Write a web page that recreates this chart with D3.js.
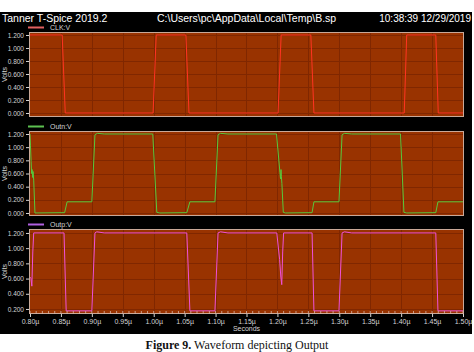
<!DOCTYPE html>
<html>
<head>
<meta charset="utf-8">
<script src="https://cdn.jsdelivr.net/npm/d3@7"></script>
<style>
  body { margin: 0; background: #fff; }
  svg { display: block; }
</style>
</head>
<body>
<div id="chart"></div>
<script>
// header texts
const appName = 'Tanner T-Spice 2019.2';
const filePath = 'C:\\Users\\pc\\AppData\\Local\\Temp\\B.sp';
const stamp = '10:38:39 12/29/2019';
const caption = ['Figure 9.', ' Waveform depicting Output'];

// x axis (microseconds)
const timeDomain = [0.8, 1.5];
const timeTicks = [0.80, 0.85, 0.90, 0.95, 1.00, 1.05, 1.10, 1.15, 1.20, 1.25, 1.30, 1.35, 1.40, 1.45, 1.50];

// y ticks per panel
const clkTicks = [0, 0.2, 0.4, 0.6, 0.8, 1.0, 1.2];
const outnTicks = [0, 0.2, 0.4, 0.6, 0.8, 1.0, 1.2];
const outpTicks = [0.2, 0.4, 0.6, 0.8, 1.0, 1.2];

// [time µs, volts]
const clkData = [
  [0.800, 1.2], [0.852, 1.2], [0.857, 0], [0.999, 0], [1.004, 1.2], [1.052, 1.2], [1.057, 0],
  [1.201, 0], [1.206, 1.2], [1.254, 1.2], [1.259, 0], [1.405, 0], [1.409, 1.2], [1.456, 1.2],
  [1.460, 0], [1.500, 0]
];

const outnData = [
  [0.800, 1.20], [0.8008, 1.02], [0.8018, 0.78], [0.8026, 0.60], [0.8034, 0.66], [0.8042, 0.54],
  [0.8050, 0.63], [0.8060, 0.50], [0.8080, 0.00], [0.8560, 0.005], [0.8600, 0.17], [0.9000, 0.17],
  [0.9050, 1.19], [0.9090, 1.21], [0.9200, 1.20], [0.9985, 1.20], [1.0050, 0.01], [1.0100, 0.00],
  [1.0535, 0.005], [1.0585, 0.17], [1.0990, 0.17], [1.1040, 1.19], [1.1080, 1.21], [1.1200, 1.20],
  [1.1985, 1.20], [1.2040, 0.62], [1.2050, 0.52], [1.2058, 0.66], [1.2064, 0.55], [1.2072, 0.45],
  [1.2095, 0.01], [1.2130, 0.00], [1.2560, 0.005], [1.2590, 0.17], [1.2995, 0.17], [1.3045, 1.19],
  [1.3085, 1.21], [1.3200, 1.20], [1.3990, 1.20], [1.4045, 0.01], [1.4090, 0.00], [1.4560, 0.005],
  [1.4595, 0.17], [1.5000, 0.17]
];

const outpData = [
  [0.800, 0.62], [0.8015, 0.60], [0.8030, 0.50], [0.8045, 0.95], [0.8060, 1.20], [0.8550, 1.20],
  [0.8585, 0.175], [0.9000, 0.175], [0.9050, 1.20], [0.9080, 1.215], [0.9200, 1.20], [1.0535, 1.20],
  [1.0585, 0.175], [1.0990, 0.175], [1.1040, 1.20], [1.1080, 1.215], [1.1200, 1.20], [1.1990, 1.20],
  [1.2035, 0.85], [1.2055, 0.62], [1.2070, 0.52], [1.2085, 0.95], [1.2100, 1.20], [1.2560, 1.20],
  [1.2590, 0.175], [1.2995, 0.175], [1.3045, 1.20], [1.3085, 1.215], [1.3200, 1.20], [1.4560, 1.20],
  [1.4595, 0.175], [1.5000, 0.175]
];

const W = 474, H = 352;
const plotLeft = 30, plotRight = 463;
const bg = '#993300';
const gridCol = '#802700';
const labelCol = '#d4d4d4';
const sans = '"Liberation Sans", Arial, sans-serif';

const panels = [
  { name: 'CLK:V', data: clkData, ticks: clkTicks, domain: [-0.0615, 1.246], top: 32, color: '#ff3322', legendColor: '#e06060' },
  { name: 'Outn:V', data: outnData, ticks: outnTicks, domain: [-0.0456, 1.2456], top: 131, color: '#58c83c', legendColor: '#5cc050' },
  { name: 'Outp:V', data: outpData, ticks: outpTicks, domain: [0.134, 1.252], top: 229, color: '#f050d8', legendColor: '#b060e0' }
];
const plotH = 85;

const svg = d3.select('#chart').append('svg')
  .attr('width', W)
  .attr('height', H)
  .style('font-family', sans);

svg.append('rect').attr('x', 0).attr('y', 0).attr('width', W).attr('height', H).attr('fill', '#fff');
svg.append('rect').attr('x', 0).attr('y', 12).attr('width', 472).attr('height', 322).attr('fill', '#000');

// title bar
svg.append('text').attr('x', 2).attr('y', 22).attr('fill', '#fff').style('font-size', '10.5px').text(appName);
svg.append('text').attr('x', 157).attr('y', 22).attr('fill', '#fff').style('font-size', '10.5px').text(filePath);
svg.append('text').attr('x', 471).attr('y', 22).attr('text-anchor', 'end').attr('fill', '#fff').style('font-size', '10px').text(stamp);

const x = d3.scaleLinear().domain(timeDomain).range([plotLeft, plotRight]);
const minorTicks = d3.range(0, 71).map(i => 0.8 + i * 0.01);

for (const p of panels) {
  const bottom = p.top + plotH;
  const y = d3.scaleLinear().domain(p.domain).range([bottom, p.top]);
  const g = svg.append('g');

  g.append('rect')
    .attr('x', plotLeft - 0.5).attr('y', p.top)
    .attr('width', plotRight - plotLeft + 1).attr('height', plotH)
    .attr('fill', bg);

  // grid
  g.selectAll('.vg').data(timeTicks.slice(1, -1)).enter().append('line')
    .attr('x1', d => Math.round(x(d)) + 0.5).attr('x2', d => Math.round(x(d)) + 0.5)
    .attr('y1', p.top).attr('y2', bottom)
    .attr('stroke', gridCol).attr('stroke-width', 1);
  g.selectAll('.hg').data(p.ticks).enter().append('line')
    .attr('x1', plotLeft).attr('x2', plotRight)
    .attr('y1', d => Math.round(y(d)) + 0.5).attr('y2', d => Math.round(y(d)) + 0.5)
    .attr('stroke', gridCol).attr('stroke-width', 1);

  // y axis
  const ya = g.append('g')
    .attr('transform', `translate(${plotLeft - 1},0)`)
    .call(d3.axisLeft(y).tickValues(p.ticks).tickFormat(d3.format('.3f')).tickSize(3).tickPadding(2));
  ya.select('.domain').remove();
  ya.selectAll('line').attr('stroke', labelCol);
  ya.selectAll('text').attr('fill', labelCol).style('font-size', '6.5px').style('font-family', sans);

  g.append('text')
    .attr('transform', `translate(6.5,${p.top + plotH / 2}) rotate(-90)`)
    .attr('text-anchor', 'middle')
    .attr('fill', labelCol)
    .style('font-size', '7px')
    .text('Volts');

  // trace
  const line = d3.line().x(d => x(d[0])).y(d => y(d[1]));
  g.append('path')
    .datum(p.data)
    .attr('d', line)
    .attr('fill', 'none')
    .attr('stroke', p.color)
    .attr('stroke-width', 1)
    .attr('stroke-linejoin', 'round');

  // border
  g.append('rect')
    .attr('x', plotLeft - 0.5).attr('y', p.top + 0.5)
    .attr('width', plotRight - plotLeft + 1).attr('height', plotH - 1)
    .attr('fill', 'none').attr('stroke', '#c9a898').attr('stroke-width', 1);

  // legend
  g.append('line')
    .attr('x1', 28).attr('x2', 44)
    .attr('y1', p.top - 4.5).attr('y2', p.top - 4.5)
    .attr('stroke', p.legendColor).attr('stroke-width', 2);
  g.append('text')
    .attr('x', 50).attr('y', p.top - 2)
    .attr('fill', labelCol)
    .style('font-size', '7px')
    .text(p.name);

  if (p === panels[2]) {
    // minor ticks along the bottom edge
    g.selectAll('.mt').data(minorTicks).enter().append('line')
      .attr('x1', d => x(d)).attr('x2', d => x(d))
      .attr('y1', bottom - 3).attr('y2', bottom)
      .attr('stroke', '#d8b8a8').attr('stroke-width', 0.8);

    const xa = g.append('g')
      .attr('transform', `translate(0,${bottom})`)
      .call(d3.axisBottom(x).tickValues(timeTicks).tickFormat(d => d3.format('.2f')(d) + 'µ').tickSize(3).tickPadding(2));
    xa.select('.domain').remove();
    xa.selectAll('line').attr('stroke', labelCol);
    xa.selectAll('text').attr('fill', labelCol).style('font-size', '7px').style('font-family', sans);

    g.append('text')
      .attr('x', (plotLeft + plotRight) / 2).attr('y', bottom + 17)
      .attr('text-anchor', 'middle')
      .attr('fill', labelCol)
      .style('font-size', '7px')
      .text('Seconds');
  }
}

// caption
const cap = svg.append('text')
  .attr('x', 237).attr('y', 349)
  .attr('text-anchor', 'middle')
  .attr('fill', '#111')
  .style('font-family', '"Liberation Serif", "Times New Roman", serif')
  .style('font-size', '12px');
cap.append('tspan').style('font-weight', 'bold').text(caption[0]);
cap.append('tspan').text(caption[1]);
</script>
</body>
</html>
